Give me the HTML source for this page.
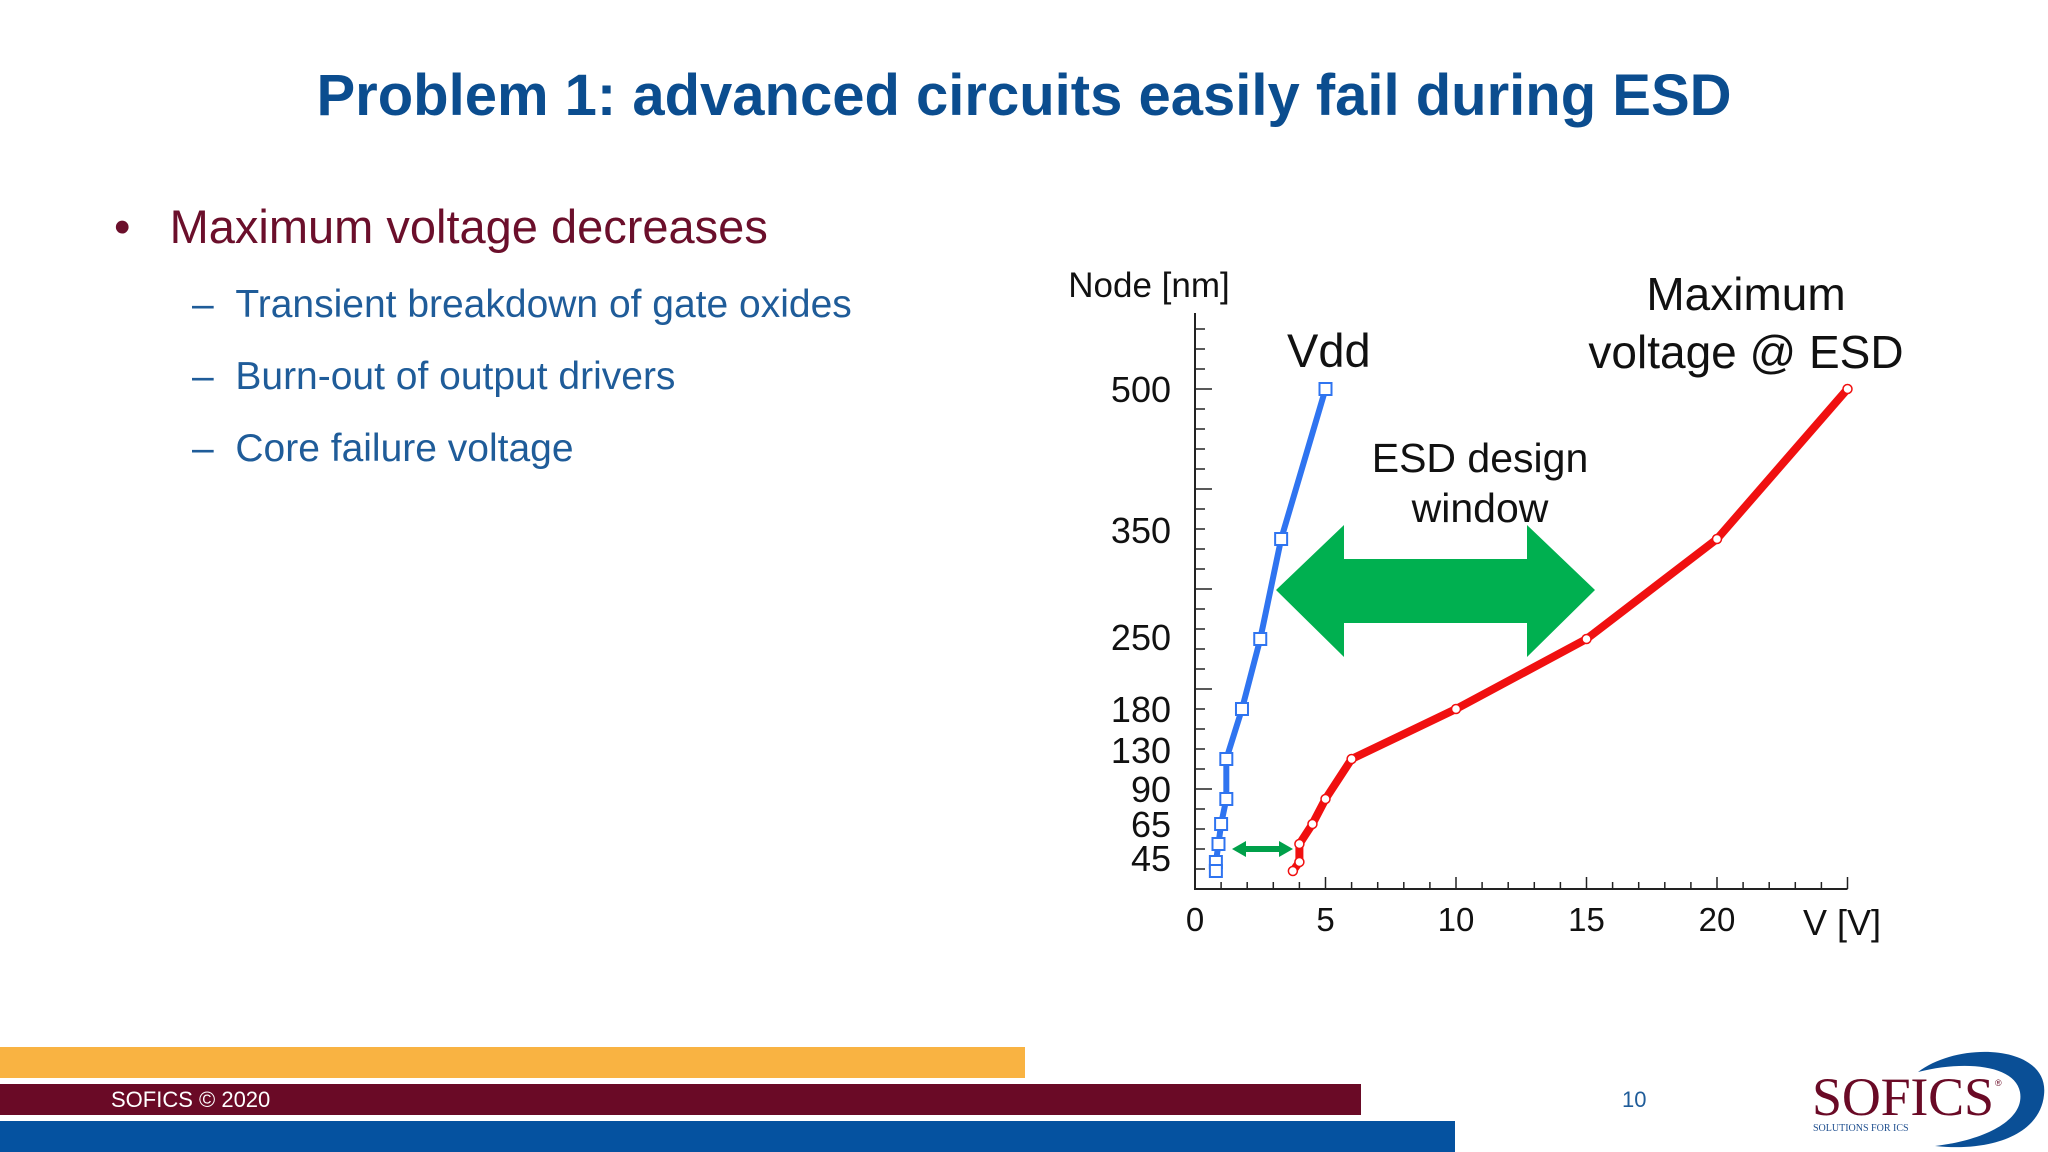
<!DOCTYPE html>
<html><head><meta charset="utf-8">
<style>
body{margin:0;width:2048px;height:1152px;overflow:hidden;background:#fff;position:relative;font-family:"Liberation Sans",sans-serif}
.t{position:absolute;white-space:nowrap}
</style></head>
<body>
<div class="t" style="left:0;width:2048px;text-align:center;top:62px;font-size:58px;font-weight:bold;color:#0b4d8f">Problem 1: advanced circuits easily fail during ESD</div>
<div class="t" style="left:114px;top:199px;font-size:47px;color:#6b0f2b">•&nbsp;&nbsp;&nbsp;Maximum voltage decreases</div>
<div class="t" style="left:192px;top:283px;font-size:39px;color:#1f5c99">–&nbsp;&nbsp;Transient breakdown of gate oxides</div>
<div class="t" style="left:192px;top:355px;font-size:39px;color:#1f5c99">–&nbsp;&nbsp;Burn-out of output drivers</div>
<div class="t" style="left:192px;top:427px;font-size:39px;color:#1f5c99">–&nbsp;&nbsp;Core failure voltage</div>

<svg id="chart" style="position:absolute;left:0;top:0" width="2048" height="1152" font-family="Liberation Sans, sans-serif"></svg>

<div style="position:absolute;left:0;top:1047px;width:1025px;height:31px;background:#f9b342"></div>
<div style="position:absolute;left:0;top:1084px;width:1361px;height:31px;background:#6a0a26"></div>
<div style="position:absolute;left:0;top:1121px;width:1455px;height:31px;background:#0552a0"></div>
<div class="t" style="left:111px;top:1087px;font-size:22px;color:#fff">SOFICS © 2020</div>
<div class="t" style="left:1622px;top:1087px;font-size:22px;color:#1f5c99">10</div>
<svg style="position:absolute;left:0;top:0" width="2048" height="1152">
<path d="M1918,1072 C1960,1040 2050,1045 2044,1095 C2040,1135 1990,1152 1935,1146 C1985,1140 2025,1120 2020,1092 C2015,1065 1965,1060 1918,1072 Z" fill="#0a4f96"/>
<text x="1812" y="1115" font-family="Liberation Serif, serif" font-size="54" fill="#6a0a26" textLength="182">SOFICS</text>
<text x="1995" y="1086" font-size="9" fill="#6a0a26">®</text>
<text x="1813" y="1131" font-family="Liberation Serif, serif" font-size="10" fill="#1f4f8f">SOLUTIONS FOR ICS</text>
</svg>

<script>
const voltTicks=[0,5,10,15,20];
const nodeTicks=[500,350,250,180,130,90,65,45];
const nodeTickLevels=[500,359,252,180,139,100,65,31];
const vddNodes=[500,350,250,180,130,90,65,45,27,18];
const vddVolts=[5,3.3,2.5,1.8,1.2,1.2,1.0,0.9,0.8,0.8];
const esdNodes=[500,350,250,180,130,90,65,45,27,18];
const esdVolts=[25,20,15,10,6,5,4.5,4,4,3.75];

const svg=document.getElementById('chart');
const NS='http://www.w3.org/2000/svg';
const X0=1195,XS=26.1,Y0=889,YS=1.0;
const xs=v=>X0+v*XS, ys=n=>Y0-n*YS;
function mk(tag,attrs,parent){const e=document.createElementNS(NS,tag);for(const k in attrs)e.setAttribute(k,attrs[k]);(parent||svg).appendChild(e);return e;}
function txt(x,y,s,size,anchor,name){const e=mk('text',{x:x,y:y,'font-size':size,'text-anchor':anchor||'start',fill:'#111'});e.textContent=s;


return e;}

const ax=mk('path',{d:`M${X0},313 V${Y0} H${xs(25)}`,stroke:'#222','stroke-width':2,fill:'none'});


for(let v=0;v<=25;v++){const L=v%5==0?12:7;const t=mk('line',{x1:xs(v),x2:xs(v),y1:Y0,y2:Y0-L,stroke:'#222','stroke-width':1.5});

}
for(let n=20;n<=560;n+=20){const L=n%100==0?17:10;const t=mk('line',{x1:X0,x2:X0+L,y1:ys(n),y2:ys(n),stroke:'#222','stroke-width':1.5});

}
voltTicks.forEach(v=>txt(xs(v),931,String(v),33,'middle','x-tick-label'));
nodeTicks.forEach((n,i)=>txt(1171,ys(nodeTickLevels[i])+13,String(n),36,'end','y-tick-label'));
txt(1149,297,'Node [nm]',35,'middle','y-axis-title');
txt(1842,935,'V [V]',36,'middle','x-axis-title');
txt(1287,367,'Vdd',47,'start','vdd-label');
txt(1746,310,'Maximum',46,'middle','max-voltage-label');
txt(1746,368,'voltage @ ESD',46,'middle','max-voltage-label-2');
txt(1480,472,'ESD design',41,'middle','window-label');
txt(1480,522,'window',41,'middle','window-label-2');

const ar=mk('path',{d:'M1276,590 L1344,525 V559 H1527 V525 L1595,590 L1527,657 V623 H1344 V657 Z',fill:'#00b050'});


const sa=mk('path',{d:'M1232,849 L1246,841 V846 H1279 V841 L1293,849 L1279,857 V852 H1246 V857 Z',fill:'#00a04a'});



const pb=mk('polyline',{points:vddVolts.map((v,i)=>xs(v)+','+ys(vddNodes[i])).join(' '),fill:'none',stroke:'#2f74f0','stroke-width':6,'stroke-linejoin':'round'});


vddVolts.forEach((v,i)=>{const r=mk('rect',{x:xs(v)-6,y:ys(vddNodes[i])-6,width:12,height:12,fill:'#fff',stroke:'#2f74f0','stroke-width':2});

});
const pr=mk('polyline',{points:esdVolts.map((v,i)=>xs(v)+','+ys(esdNodes[i])).join(' '),fill:'none',stroke:'#f01010','stroke-width':8,'stroke-linejoin':'round'});


esdVolts.forEach((v,i)=>{const c=mk('circle',{cx:xs(v),cy:ys(esdNodes[i]),r:4.5,fill:'#fff',stroke:'#f01010','stroke-width':1.5});

});
</script>
</body></html>
